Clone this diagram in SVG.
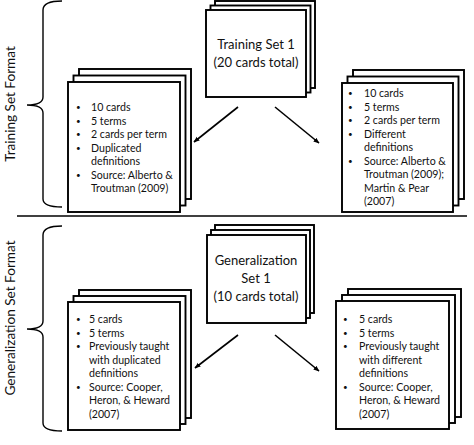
<svg xmlns="http://www.w3.org/2000/svg" width="474" height="445" viewBox="0 0 474 445">
<style>
.card{fill:#fff;stroke:#000;stroke-width:1.9}
.t{font-family:Lato,"Liberation Sans",sans-serif;fill:#111}
.b{font-size:10.6px}
.c{font-size:13px;text-anchor:middle}
.side{font-size:13.6px;text-anchor:middle}
.bul{font-size:8px}
.ln{stroke:#000;stroke-width:1.6;fill:none}
.br{stroke:#000;stroke-width:1.4;fill:none}
</style>
<defs>
<marker id="ah" viewBox="0 0 10 10" refX="9" refY="5" markerWidth="6" markerHeight="6" orient="auto" markerUnits="userSpaceOnUse">
<path d="M0,1 L10,5 L0,9 z" fill="#000"/>
</marker>
</defs>
<rect width="474" height="445" fill="#fff"/>

<g id="labels">
<text class="t side" transform="translate(15,104) rotate(-90)">Training Set Format</text>
<text class="t side" transform="translate(15,318) rotate(-90)">Generalization Set Format</text>
<path class="br" d="M62,1 Q43,1 43,10 L43,97 Q43,105 27,105 Q43,105 43,113 L43,199 Q43,207 62,207"/>
<path class="br" d="M62,226 Q43,226 43,235 L43,321 Q43,329 27,329 Q43,329 43,337 L43,423 Q43,431 62,431"/>
<line class="ln" x1="17" y1="216" x2="467" y2="216" stroke-width="2"/>
</g>

<g id="training-set">
<rect class="card" x="215" y="1" width="100" height="87"/>
<rect class="card" x="210.5" y="5.5" width="100" height="87"/>
<rect class="card" x="206" y="10" width="100" height="87"/>
<text class="t c" x="256" y="49">Training Set 1</text>
<text class="t c" x="256" y="67">(20 cards total)</text>
</g>

<g id="training-left">
<rect class="card" x="79" y="69" width="112" height="130"/>
<rect class="card" x="73.5" y="75.5" width="112" height="130"/>
<rect class="card" x="68" y="82" width="112" height="130"/>
<g class="t">
<text class="bul" x="76" y="110">•</text><text class="b" x="91" y="111">10 cards</text>
<text class="bul" x="76" y="123.5">•</text><text class="b" x="91" y="124.5">5 terms</text>
<text class="bul" x="76" y="137">•</text><text class="b" x="91" y="138">2 cards per term</text>
<text class="bul" x="76" y="150.5">•</text><text class="b" x="91" y="151.5">Duplicated</text>
<text class="b" x="91" y="165">definitions</text>
<text class="bul" x="76" y="177.5">•</text><text class="b" x="91" y="178.5">Source: Alberto &amp;</text>
<text class="b" x="91" y="192">Troutman (2009)</text>
</g>
</g>

<g id="training-right">
<rect class="card" x="353" y="70" width="111" height="129"/>
<rect class="card" x="347.5" y="76.5" width="111" height="129"/>
<rect class="card" x="342" y="83" width="111" height="129"/>
<g class="t">
<text class="bul" x="348" y="96">•</text><text class="b" x="364" y="97">10 cards</text>
<text class="bul" x="348" y="109.5">•</text><text class="b" x="364" y="110.5">5 terms</text>
<text class="bul" x="348" y="123">•</text><text class="b" x="364" y="124">2 cards per term</text>
<text class="bul" x="348" y="136.5">•</text><text class="b" x="364" y="137.5">Different</text>
<text class="b" x="364" y="151">definitions</text>
<text class="bul" x="348" y="163.5">•</text><text class="b" x="364" y="164.5">Source: Alberto &amp;</text>
<text class="b" x="364" y="178">Troutman (2009);</text>
<text class="b" x="364" y="191.5">Martin &amp; Pear</text>
<text class="b" x="364" y="205">(2007)</text>
</g>
</g>

<g id="generalization-set">
<rect class="card" x="215" y="225" width="99" height="88"/>
<rect class="card" x="211" y="230" width="99" height="88"/>
<rect class="card" x="207" y="235" width="99" height="88"/>
<text class="t c" x="256" y="265">Generalization</text>
<text class="t c" x="256" y="283">Set 1</text>
<text class="t c" x="256" y="301">(10 cards total)</text>
</g>

<g id="generalization-left">
<rect class="card" x="79" y="290" width="112" height="128"/>
<rect class="card" x="73.5" y="296" width="112" height="128"/>
<rect class="card" x="68" y="302" width="112" height="128"/>
<g class="t">
<text class="bul" x="76" y="322">•</text><text class="b" x="89" y="323">5 cards</text>
<text class="bul" x="76" y="335.5">•</text><text class="b" x="89" y="336.5">5 terms</text>
<text class="bul" x="76" y="349">•</text><text class="b" x="89" y="350">Previously taught</text>
<text class="b" x="89" y="363.5">with duplicated</text>
<text class="b" x="89" y="377">definitions</text>
<text class="bul" x="76" y="389.5">•</text><text class="b" x="89" y="390.5">Source: Cooper,</text>
<text class="b" x="89" y="404">Heron, &amp; Heward</text>
<text class="b" x="89" y="417.5">(2007)</text>
</g>
</g>

<g id="generalization-right">
<rect class="card" x="348" y="289" width="113" height="128"/>
<rect class="card" x="342" y="295" width="113" height="128"/>
<rect class="card" x="336" y="301" width="113" height="128"/>
<g class="t">
<text class="bul" x="343" y="322">•</text><text class="b" x="359" y="323">5 cards</text>
<text class="bul" x="343" y="335.5">•</text><text class="b" x="359" y="336.5">5 terms</text>
<text class="bul" x="343" y="349">•</text><text class="b" x="359" y="350">Previously taught</text>
<text class="b" x="359" y="363.5">with different</text>
<text class="b" x="359" y="377">definitions</text>
<text class="bul" x="343" y="389.5">•</text><text class="b" x="359" y="390.5">Source: Cooper,</text>
<text class="b" x="359" y="404">Heron, &amp; Heward</text>
<text class="b" x="359" y="417.5">(2007)</text>
</g>
</g>

<g id="connectors">
<line class="ln" x1="238" y1="107" x2="194" y2="142" marker-end="url(#ah)"/>
<line class="ln" x1="275" y1="107" x2="319" y2="143" marker-end="url(#ah)"/>
<line class="ln" x1="238" y1="335" x2="195" y2="368" marker-end="url(#ah)"/>
<line class="ln" x1="275" y1="335" x2="319" y2="371" marker-end="url(#ah)"/>
</g>
</svg>
